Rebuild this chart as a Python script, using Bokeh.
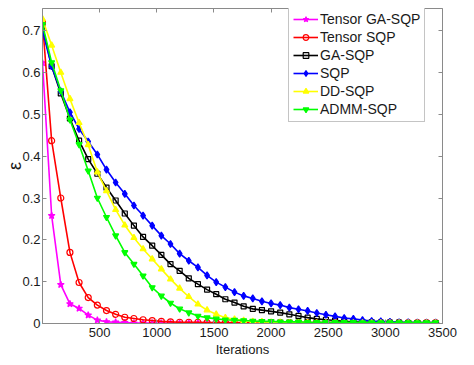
from bokeh.plotting import figure
from bokeh.models import Range1d, FixedTicker, LinearAxis
from bokeh.embed import file_html
from bokeh.resources import INLINE

iterations = [0, 80, 160, 240, 320, 400, 480, 560, 640, 720,
              800, 880, 960, 1040, 1120, 1200, 1280, 1360, 1440, 1520,
              1600, 1680, 1760, 1840, 1920, 2000, 2080, 2160, 2240, 2320,
              2400, 2480, 2560, 2640, 2720, 2800, 2880, 2960, 3040, 3120,
              3200, 3280, 3360, 3440]

tensor_ga_sqp = [0.623, 0.258, 0.093, 0.047, 0.036, 0.020, 0.008, 0.004, 0.003, 0.002,
                 0.001, 0.001, 0.001, 0.001, 0.001, 0.001, 0.001, 0.001, 0.001, 0.001,
                 0.001, 0.001, 0.001, 0.001, 0.001, 0.001, 0.001, 0.001, 0.001, 0.001,
                 0.001, 0.001, 0.001, 0.001, 0.001, 0.001, 0.001, 0.001, 0.001, 0.001,
                 0.001, 0.001, 0.001, 0.001]
tensor_sqp = [0.720, 0.437, 0.300, 0.170, 0.098, 0.062, 0.044, 0.031, 0.022, 0.015,
              0.012, 0.009, 0.007, 0.005, 0.004, 0.003, 0.003, 0.003, 0.002, 0.002,
              0.002, 0.002, 0.002, 0.002, 0.002, 0.002, 0.002, 0.002, 0.002, 0.002,
              0.002, 0.002, 0.002, 0.002, 0.002, 0.002, 0.002, 0.002, 0.002, 0.002,
              0.002, 0.002, 0.002, 0.002]
ga_sqp = [0.710, 0.615, 0.550, 0.490, 0.437, 0.393, 0.358, 0.325, 0.294, 0.263,
          0.234, 0.207, 0.186, 0.164, 0.142, 0.126, 0.108, 0.094, 0.081, 0.070,
          0.058, 0.050, 0.041, 0.035, 0.032, 0.029, 0.026, 0.022, 0.018, 0.014,
          0.011, 0.009, 0.007, 0.005, 0.004, 0.003, 0.003, 0.002, 0.002, 0.002,
          0.001, 0.001, 0.001, 0.001]
sqp = [0.700, 0.615, 0.555, 0.505, 0.465, 0.435, 0.404, 0.368, 0.337, 0.310,
       0.282, 0.258, 0.234, 0.210, 0.190, 0.167, 0.150, 0.134, 0.115, 0.099,
       0.087, 0.075, 0.066, 0.060, 0.053, 0.048, 0.044, 0.038, 0.034, 0.030,
       0.025, 0.021, 0.017, 0.013, 0.011, 0.008, 0.006, 0.005, 0.004, 0.003,
       0.003, 0.002, 0.002, 0.002]
dd_sqp = [0.728, 0.665, 0.600, 0.537, 0.480, 0.427, 0.362, 0.317, 0.272, 0.235,
          0.205, 0.178, 0.154, 0.130, 0.106, 0.084, 0.064, 0.046, 0.032, 0.022,
          0.014, 0.010, 0.007, 0.005, 0.004, 0.003, 0.003, 0.002, 0.002, 0.002,
          0.001, 0.001, 0.001, 0.001, 0.001, 0.001, 0.001, 0.001, 0.001, 0.001,
          0.001, 0.001, 0.001, 0.001]
admm_sqp = [0.715, 0.624, 0.557, 0.487, 0.428, 0.365, 0.300, 0.254, 0.210, 0.170,
            0.142, 0.114, 0.086, 0.066, 0.049, 0.035, 0.026, 0.018, 0.014, 0.011,
            0.009, 0.008, 0.007, 0.006, 0.005, 0.005, 0.004, 0.004, 0.004, 0.003,
            0.003, 0.003, 0.003, 0.003, 0.003, 0.002, 0.002, 0.002, 0.002, 0.002,
            0.002, 0.002, 0.002, 0.002]

series_names = ["Tensor GA-SQP", "Tensor SQP", "GA-SQP", "SQP", "DD-SQP", "ADMM-SQP"]
series_values = [tensor_ga_sqp, tensor_sqp, ga_sqp, sqp, dd_sqp, admm_sqp]
series_colors = ["#ff00ff", "#ff0000", "#000000", "#0000ff", "#ffff00", "#00ff00"]
series_markers = ["star", "circle", "square", "diamond", "triangle", "inverted_triangle"]
marker_sizes = [7, 6, 5, 7, 6, 6]
marker_fill = [True, False, False, True, True, True]

x_ticks = [500, 1000, 1500, 2000, 2500, 3000, 3500]
y_ticks = [0, 0.1, 0.2, 0.3, 0.4, 0.5, 0.6, 0.7]
y_tick_labels = ["0", "0.1", "0.2", "0.3", "0.4", "0.5", "0.6", "0.7"]

FONT = "Liberation Sans"
GRAY = "#8a8a8a"

p = figure(frame_width=400, frame_height=315, output_backend="svg", toolbar_location=None,
           x_range=Range1d(0, 3500), y_range=Range1d(0, 0.753),
           min_border_left=42, min_border_right=32, min_border_top=8, min_border_bottom=42)
p.background_fill_color = "white"
p.border_fill_color = "white"
p.outline_line_color = GRAY
p.grid.visible = False

for name, vals, col, mk, ms, filled in zip(series_names, series_values, series_colors,
                                          series_markers, marker_sizes, marker_fill):
    p.line(iterations, vals, line_color=col, line_width=1.6, legend_label=name)
    p.scatter(iterations, vals, marker=mk, size=ms, line_color=col, line_width=1.2,
              fill_color=col if filled else None, legend_label=name)

for ax in (p.xaxis[0], p.yaxis[0]):
    ax.axis_line_color = GRAY
    ax.major_tick_line_color = GRAY
    ax.major_tick_in = 4
    ax.major_tick_out = 0
    ax.minor_tick_line_color = None
    ax.major_label_text_font = FONT
    ax.major_label_text_font_size = "13px"
    ax.major_label_text_color = "#1a1a1a"
    ax.axis_label_text_font = FONT
    ax.axis_label_text_font_style = "normal"
    ax.axis_label_text_color = "#1a1a1a"

p.xaxis.ticker = FixedTicker(ticks=x_ticks)
p.yaxis.ticker = FixedTicker(ticks=y_ticks)
p.yaxis.major_label_overrides = {t: l for t, l in zip(y_ticks, y_tick_labels)}
p.xaxis.axis_label = "Iterations"
p.xaxis.axis_label_text_font_size = "13px"
p.xaxis.axis_label_standoff = 2
p.xaxis.major_label_standoff = 4
p.yaxis.axis_label = "ε"
p.yaxis.axis_label_text_font_size = "18px"
p.yaxis.axis_label_standoff = -6
p.yaxis.major_label_standoff = 2

# box ticks on top and right (MATLAB style)
top = LinearAxis(ticker=FixedTicker(ticks=x_ticks), axis_line_color=None,
                 major_tick_line_color=GRAY, major_tick_in=4, major_tick_out=0,
                 minor_tick_line_color=None, major_label_text_font_size="0px",
                 major_label_standoff=0, axis_label_standoff=0,
                 major_label_overrides={t: "" for t in x_ticks})
right = LinearAxis(ticker=FixedTicker(ticks=y_ticks), axis_line_color=None,
                   major_tick_line_color=GRAY, major_tick_in=4, major_tick_out=0,
                   minor_tick_line_color=None, major_label_text_font_size="0px",
                   major_label_standoff=0, axis_label_standoff=0,
                   major_label_overrides={t: "" for t in y_ticks})
p.add_layout(top, "above")
p.add_layout(right, "right")

lg = p.legend[0]
lg.location = (246, 201)
lg.label_text_font = FONT
lg.label_text_font_size = "14px"
lg.label_text_color = "#1a1a1a"
lg.glyph_width = 25
lg.glyph_height = 14
lg.label_height = 16
lg.label_standoff = 2
lg.spacing = 2
lg.padding = 4
lg.margin = 0
lg.border_line_color = GRAY
lg.border_line_width = 1
lg.background_fill_color = "white"
lg.background_fill_alpha = 1.0

open("out.html", "w").write(file_html(p, INLINE))
